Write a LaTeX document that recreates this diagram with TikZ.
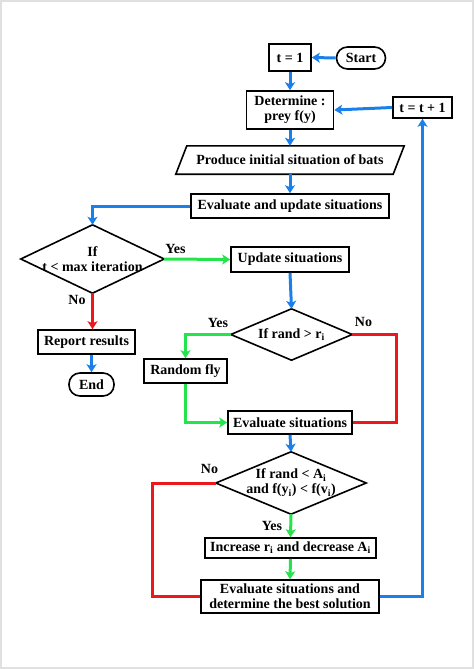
\documentclass[tikz,border=0pt]{standalone}
\usepackage{fontspec}
\setmainfont{Liberation Serif}
\usetikzlibrary{arrows.meta,calc}
\definecolor{blueL}{RGB}{25,128,235}
\definecolor{greenL}{RGB}{35,228,75}
\definecolor{redL}{RGB}{235,25,30}
\begin{document}
\begin{tikzpicture}[x=1pt,y=-1pt,
  font=\fontsize{14}{15}\selectfont\bfseries,
  box/.style={draw=black,line width=1.6pt,inner sep=0pt,align=center},
  ghost/.style={inner sep=0pt,align=center},
  shp/.style={draw=black,line width=1.6pt},
  con/.style={line width=3pt,-{Stealth[length=8pt,width=10pt,inset=2pt]}},
  plain/.style={line width=3pt},
  lbl/.style={inner sep=0pt}]
\useasboundingbox (0,0) rectangle (474,669);
\draw[black!12,line width=2.5pt] (1.2,1.2) rectangle (472.8,667.8);

% nodes
\node[box,minimum width=42,minimum height=27] (t1) at (290,57.5) {t = 1};
\node[box,rounded corners=11pt,minimum width=49,minimum height=22] (start) at (361,58) {Start};
\node[box,minimum width=87,minimum height=38] (det) at (290,110) {Determine :\\prey f(y)};
\node[box,minimum width=59,minimum height=21] (tt) at (422.5,107.5) {t = t + 1};
\node[ghost,minimum width=228,minimum height=28] (par) at (290,160) {Produce initial situation of bats};
\draw[shp] ($(par.north west)+(11,0)$) -- (par.north east) -- ($(par.south east)+(-11,0)$) -- (par.south west) -- cycle;
\node[box,minimum width=198,minimum height=24] (ev1) at (290,206) {Evaluate and update situations};
\node[ghost,minimum width=143,minimum height=68] (d1) at (92.5,259) {If\\t < max iteration};
\draw[shp] (d1.west) -- (d1.north) -- (d1.east) -- (d1.south) -- cycle;
\node[box,minimum width=118,minimum height=25] (upd) at (290,259.5) {Update situations};
\node[ghost,minimum width=121,minimum height=51] (d2) at (291.5,334.5) {If rand > r\textsubscript{i}};
\draw[shp] (d2.west) -- (d2.north) -- (d2.east) -- (d2.south) -- cycle;
\node[box,minimum width=97,minimum height=24] (rep) at (86.5,342) {Report results};
\node[box,rounded corners=11pt,minimum width=45,minimum height=23] (end) at (91.5,384.5) {End};
\node[box,minimum width=83,minimum height=24] (rf) at (185.5,371) {Random fly};
\node[box,minimum width=124,minimum height=23] (ev2) at (290,422.5) {Evaluate situations};
\node[ghost,minimum width=150,minimum height=62] (d3) at (291,483) {If rand < A\textsubscript{i}\\and f(y\textsubscript{i}) < f(v\textsubscript{i})};
\draw[shp] (d3.west) -- (d3.north) -- (d3.east) -- (d3.south) -- cycle;
\node[box,minimum width=171,minimum height=20] (inc) at (290.5,548) {Increase r\textsubscript{i} and decrease A\textsubscript{i}};
\node[box,minimum width=178,minimum height=33] (fin) at (290,596.5) {Evaluate situations and\\determine the best solution};

\coordinate (nr) at (396,380);
\coordinate (nl) at (152,540);

% blue connectors
\draw[con,blueL] (start.west) -- (t1.east);
\draw[con,blueL] (t1.south) -- (det.north);
\draw[con,blueL] (tt.west) -- (det.east);
\draw[con,blueL] (det.south) -- (par.north);
\draw[con,blueL] (par.south) -- (ev1.north);
\draw[con,blueL] (ev1.west) -| (d1.north);
\draw[con,blueL] (upd.south) -- (d2.north);
\draw[con,blueL] (end.north |- rep.south) -- (end.north);
\draw[con,blueL] (ev2.south) -- (d3.north);
\draw[con,blueL] (fin.east) -| (tt.south);

% green connectors
\draw[con,greenL] (d1.east) -- (upd.west);
\draw[con,greenL] (d2.west) -| (rf.north);
\draw[con,greenL] (rf.south) |- (ev2.west);
\draw[con,greenL] (d3.south) -- (inc.north);
\draw[con,greenL] (inc.south) -- (fin.north);

% red connectors
\draw[con,redL] (d1.south) -- (d1.south |- rep.north);
\draw[plain,redL] (d2.east) -| (nr) |- (ev2.east);
\draw[plain,redL] (d3.west) -| (nl) |- (fin.west);

% labels
\node[lbl] (y1) at (175.5,249) {Yes};
\node[lbl] (n1) at (77,300) {No};
\node[lbl] (y2) at (218,323) {Yes};
\node[lbl] (n2) at (363.5,322) {No};
\node[lbl] (n3) at (209.5,469) {No};
\node[lbl] (y3) at (272,526) {Yes};
\end{tikzpicture}
\end{document}
